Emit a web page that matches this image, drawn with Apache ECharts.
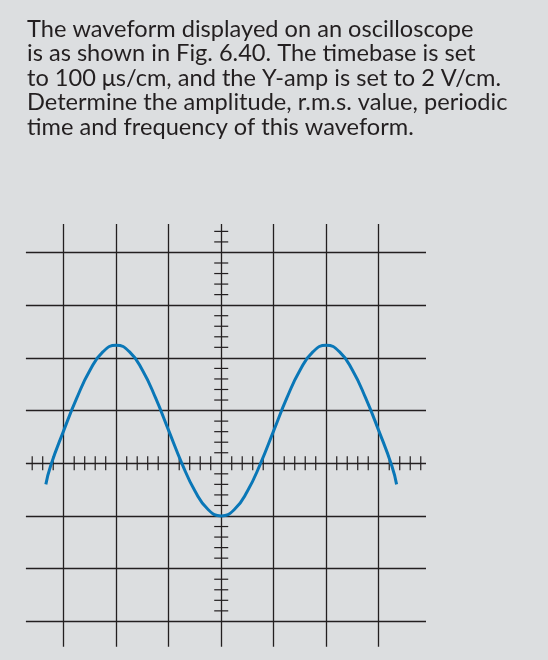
<!DOCTYPE html>
<html><head><meta charset="utf-8">
<script src="https://cdn.jsdelivr.net/npm/echarts@6/dist/echarts.min.js"></script>
<style>html,body{margin:0;padding:0;background:#dcdee0}#c{width:548px;height:660px}</style>
</head><body><div id="c"></div>
<script>
const textLines = [
  "The waveform displayed on an oscilloscope",
  "is as shown in Fig. 6.40. The timebase is set",
  "to 100\u202F\u03BCs/cm, and the Y-amp is set to 2\u202FV/cm.",
  "Determine the amplitude, r.m.s. value, periodic",
  "time and frequency of this waveform."
];
// x in cm (divisions), y in cm
const waveX = [-3.34,-3.25,-3,-2.75,-2.5,-2.25,-2,-1.75,-1.5,-1.25,-1,-0.75,-0.5,-0.25,0,0.25,0.5,0.75,1,1.25,1.5,1.75,2,2.25,2.5,2.75,3,3.25,3.34];
const waveY = [-0.4,-0.05,0.62,1.24,1.765,2.117,2.24,2.117,1.765,1.24,0.62,0.0,-0.525,-0.877,-1.0,-0.877,-0.525,0.0,0.62,1.24,1.765,2.117,2.24,2.117,1.765,1.24,0.62,-0.05,-0.4];
const gridX = [-3,-2,-1,0,1,2,3];
const gridY = [-3,-2,-1,0,1,2,3,4];
const tickX = [], tickY = [];
for (let i=-18;i<=19;i++){ if (i%5!==0) tickX.push(i/5); }
for (let i=-14;i<=22;i++){ if (i%5!==0) tickY.push(i/5); }

const chart = echarts.init(document.getElementById('c'));
const ink = '#231f20';
const tickSeries = (pts, horiz) => ({
  type:'custom', silent:true, z:3,
  data: pts.map(v=>[v]),
  renderItem:(p,api)=>{
    const v = api.value(0);
    const c = horiz ? api.coord([v,0]) : api.coord([0,v]);
    const s = 7;
    return {type:'line', shape: horiz ? {x1:c[0],y1:c[1]-s,x2:c[0],y2:c[1]+s} : {x1:c[0]-s,y1:c[1],x2:c[0]+s,y2:c[1]},
      style:{stroke:ink,lineWidth:1.2}};
  }
});
chart.setOption({
  backgroundColor:'#dcdee0',
  animation:false,
  graphic: textLines.map((t,i)=>({type:'text', left:27, top:17+i*24.5,
    style:{text:t, font:'23.6px Lato', fill:ink}})),
  grid:{left:25.9, right:122, top:224, bottom:13.3},
  xAxis:{type:'value', min:-3.72, max:3.9, show:false},
  yAxis:{type:'value', min:-3.48, max:4.54, show:false},
  series:[
    {type:'line', data:waveX.map((x,i)=>[x,waveY[i]]), smooth:0.5, showSymbol:false, z:5,
     lineStyle:{color:'#0a77b7', width:3},
     markLine:{silent:true, symbol:'none', label:{show:false},
       lineStyle:{color:ink, width:1.3, type:'solid'},
       data:[...gridX.map(v=>({xAxis:v})), ...gridY.map(v=>({yAxis:v}))]}},
    tickSeries(tickX,true),
    tickSeries(tickY,false)
  ]
});
</script></body></html>
